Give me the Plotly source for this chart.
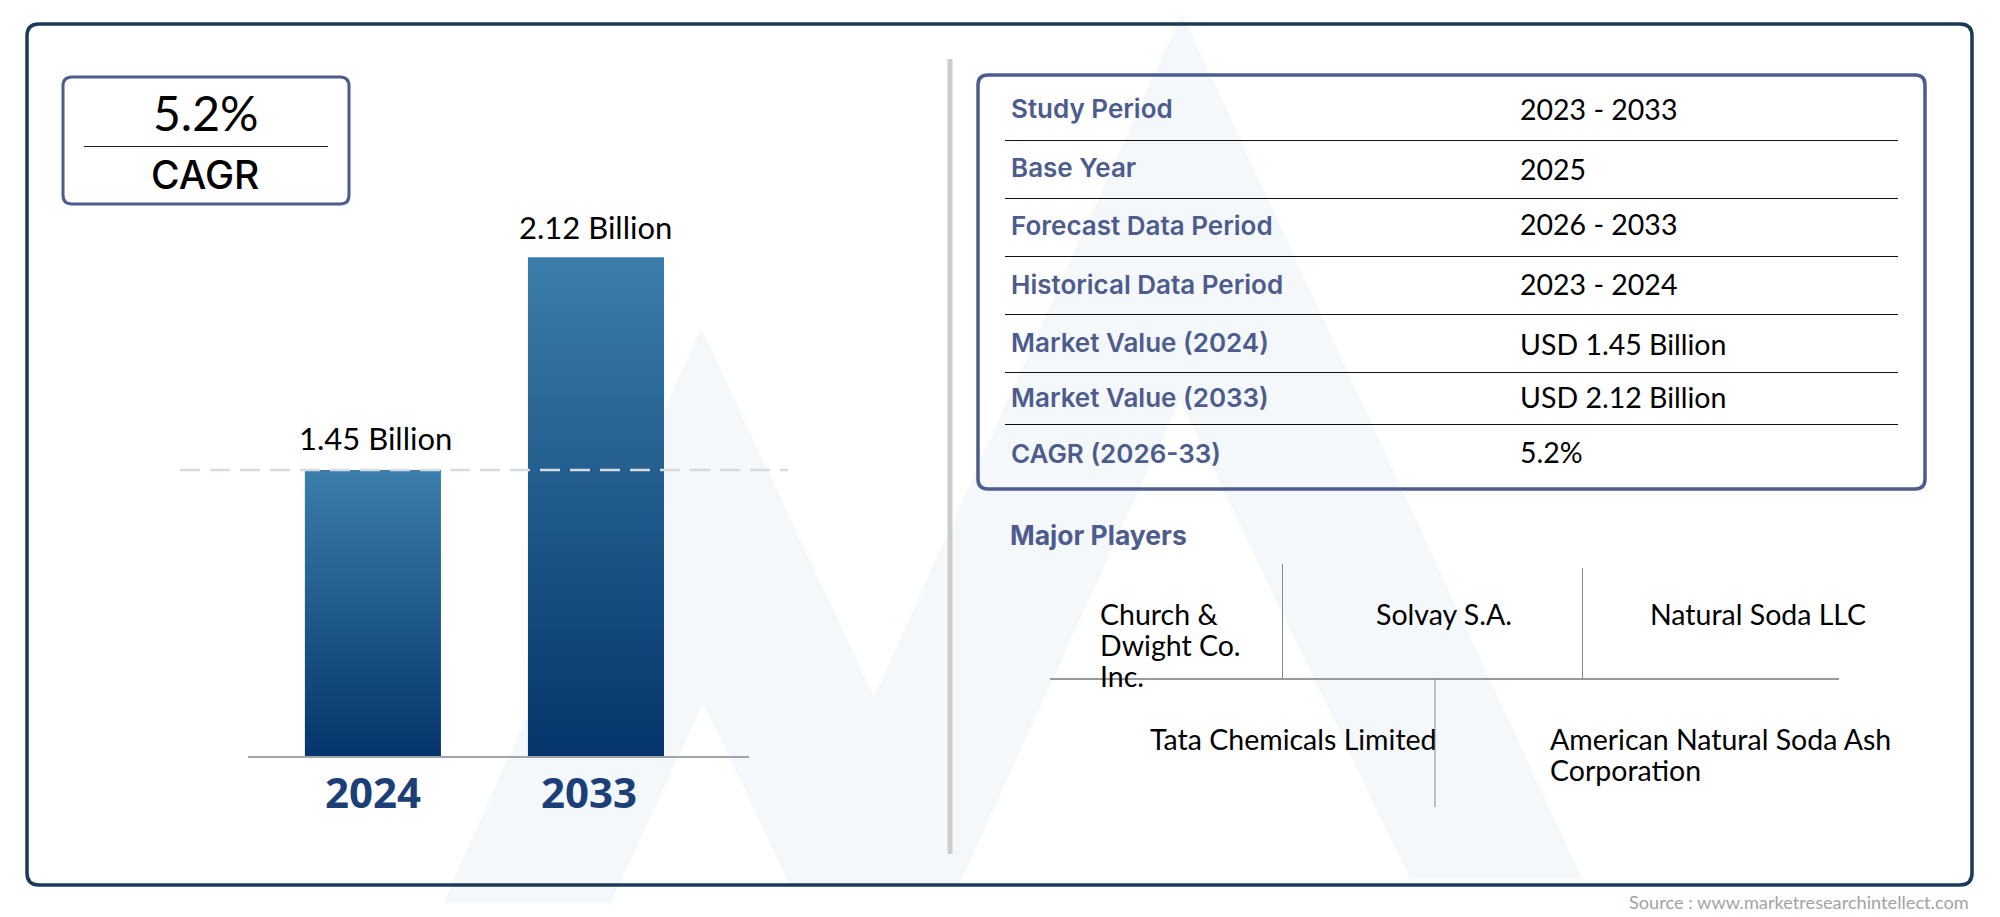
"""
Market size summary card: two year bar chart, study table and major players.
"""

import plotly.graph_objects as go

W, H = 2000, 917

# bar chart data
years = ["2024", "2033"]
market_value = [1.45, 2.12]
value_unit = "Billion"

# table data
table_labels = ["Study Period", "Base Year", "Forecast Data Period", "Historical Data Period",
                "Market Value (2024)", "Market Value (2033)", "CAGR (2026-33)"]
table_values = ["2023 - 2033", "2025", "2026 - 2033", "2023 - 2024",
                "USD 1.45 Billion", "USD 2.12 Billion", "5.2%"]

cagr_text = "5.2%"
players_title = "Major Players"
player_lines = ["Church &", "Dwight Co.", "Inc.", "Solvay S.A.", "Natural Soda LLC",
                "Tata Chemicals Limited", "American Natural Soda Ash", "Corporation"]
source_text = "Source : www.marketresearchintellect.com"

# layout in screen pixels
label_y = [108, 168, 226, 284, 342, 398, 453]
value_y = [109, 169, 224, 284, 344, 397, 452]
rule_y = [140, 198, 256, 314, 372, 424]
player_x = [1098, 1098, 1098, 1374, 1648, 1148, 1548, 1548]
player_y = [614, 645, 676, 614, 614, 739, 739, 770]

BODY_FONT = "Lato"
HEAD_FONT = "Inter"
NAVY = "#1b3a57"
SLATE = "#4d5c8c"


def fx(x):
    return x / W


def fy(y):
    return 1 - y / H


def rounded_box(x0, y0, x1, y1, r, color, width):
    path = (f"M {fx(x0 + r)} {fy(y0)} L {fx(x1 - r)} {fy(y0)} Q {fx(x1)} {fy(y0)} {fx(x1)} {fy(y0 + r)} "
            f"L {fx(x1)} {fy(y1 - r)} Q {fx(x1)} {fy(y1)} {fx(x1 - r)} {fy(y1)} "
            f"L {fx(x0 + r)} {fy(y1)} Q {fx(x0)} {fy(y1)} {fx(x0)} {fy(y1 - r)} "
            f"L {fx(x0)} {fy(y0 + r)} Q {fx(x0)} {fy(y0)} {fx(x0 + r)} {fy(y0)} Z")
    return dict(type="path", path=path, xref="paper", yref="paper", line=dict(color=color, width=width))


def px_line(x0, y0, x1, y1, color, width):
    return dict(type="line", xref="paper", yref="paper", x0=fx(x0), y0=fy(y0), x1=fx(x1), y1=fy(y1),
                line=dict(color=color, width=width))


def px_text(x, y, text, size, color="#000000", family=BODY_FONT, anchor="left", weight=400):
    return dict(xref="paper", yref="paper", x=fx(x), y=fy(y), text=text, showarrow=False,
                xanchor=anchor, yanchor="middle", font=dict(family=family, size=size, color=color, weight=weight))


# faint logo behind everything
logo = [(443, 903), (701, 328), (874, 697), (1182, 13), (1582, 879), (1410, 879), (1180, 400),
        (960, 883), (789, 883), (703, 703), (611, 903)]
logo_path = "M " + " L ".join(f"{fx(x)} {fy(y)}" for x, y in logo) + " Z"

shapes = [dict(type="path", path=logo_path, xref="paper", yref="paper", layer="below",
               fillcolor="#f5f8fb", line=dict(width=0))]
shapes.append(rounded_box(27, 24, 1972, 885, 12, NAVY, 3.5))
shapes.append(rounded_box(63, 77, 349, 204, 9, SLATE, 3))
shapes.append(px_line(84, 146.5, 328, 146.5, "#222222", 1))
shapes.append(px_line(950, 59, 950, 854, "#cccccc", 5))
shapes.append(rounded_box(978, 75, 1925, 489, 10, SLATE, 3.5))
for y in rule_y:
    shapes.append(px_line(1005, y + 0.5, 1898, y + 0.5, "#111111", 1.2))
shapes.append(px_line(1050, 679, 1839, 679, "#777777", 1.3))
shapes.append(px_line(1282.5, 564, 1282.5, 679, "#888888", 1))
shapes.append(px_line(1582.5, 568, 1582.5, 679, "#888888", 1))
shapes.append(px_line(1435, 679, 1435, 807, "#888888", 1))

# dashed guide at the 2024 value, runs past the plot area
shapes.append(dict(type="line", xref="paper", yref="y", x0=fx(180), x1=fx(788),
                   y0=market_value[0], y1=market_value[0], layer="above",
                   line=dict(color="#d6d9de", width=2.5, dash="20px,10px")))

annotations = [px_text(205, 113, cagr_text, 48, anchor="center")]
annotations.append(px_text(205, 174, "CAGR", 39, family=HEAD_FONT, anchor="center", weight=500))
for label, y in zip(table_labels, label_y):
    annotations.append(px_text(1009, y, label, 26, color=SLATE, family=HEAD_FONT, weight=600))
for value, y in zip(table_values, value_y):
    annotations.append(px_text(1518, y, value, 28.5))
annotations.append(px_text(1008, 535, players_title, 26.5, color=SLATE, family=HEAD_FONT, weight=700))
for line, x, y in zip(player_lines, player_x, player_y):
    annotations.append(px_text(x, y, line, 28.5))
annotations.append(px_text(1971, 902, source_text, 18.2, color="#a3a3a3", anchor="right"))

# bars: fill gradient is only available on scatter, so each bar is a closed trace
axis_floor = 0.55
bar_half = 0.305
label_xshift = [3, 0]
label_yshift = [32, 30]
fig = go.Figure()
for i, (year, value) in enumerate(zip(years, market_value)):
    fig.add_trace(go.Scatter(
        x=[i - bar_half, i + bar_half, i + bar_half, i - bar_half, i - bar_half],
        y=[axis_floor, axis_floor, value, value, axis_floor],
        mode="lines",
        name=year,
        line=dict(width=0),
        fill="toself",
        fillgradient=dict(type="vertical", colorscale=[[0, "#05356c"], [1, "#3b7eab"]]),
        hoverinfo="skip",
    ))
    annotations.append(dict(x=i, y=value, xref="x", yref="y", xshift=label_xshift[i], yshift=label_yshift[i],
                            text=f"{value} {value_unit}", showarrow=False, xanchor="center", yanchor="middle",
                            font=dict(family=BODY_FONT, size=31, color="#000000")))

fig.update_layout(
    width=W,
    height=H,
    margin=dict(l=0, r=0, t=0, b=0),
    paper_bgcolor="white",
    plot_bgcolor="rgba(0,0,0,0)",
    showlegend=False,
    shapes=shapes,
    annotations=annotations,
    xaxis=dict(domain=[fx(248), fx(749)], range=[-0.56, 1.686], tickmode="array", tickvals=[0, 0.969],
               ticktext=years, showgrid=False, zeroline=False, showline=True, linecolor="#a3a3aa", linewidth=2,
               ticks="", tickfont=dict(family="Open Sans", size=42, color="#1c3f78", weight=700)),
    yaxis=dict(domain=[fy(756), fy(200)], range=[axis_floor, 2.30], visible=False, showgrid=False, zeroline=False),
)

fig.write_html("out.html", config={"displayModeBar": False}, post_script="document.body.style.margin='0';")
